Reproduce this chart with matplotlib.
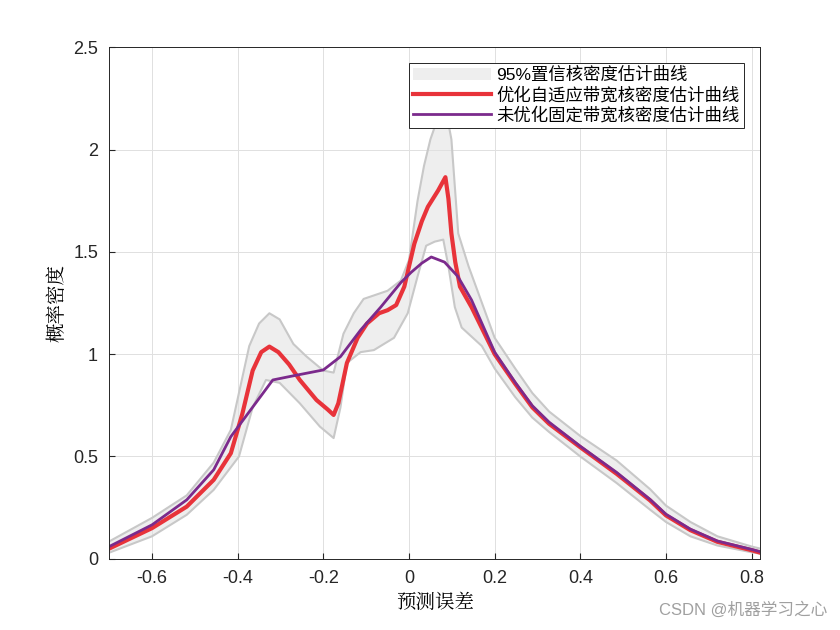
import numpy as np
import matplotlib.pyplot as plt

plt.rcParams['font.family'] = ['Liberation Sans', 'Noto Sans CJK SC', 'DejaVu Sans']

# red: optimized adaptive bandwidth KDE
x_red = [-0.7, -0.6, -0.519, -0.456, -0.416, -0.389, -0.365, -0.345, -0.326, -0.305, -0.28, -0.255,
         -0.216, -0.19, -0.176, -0.165, -0.145, -0.12, -0.098, -0.07, -0.05, -0.03, -0.011, 0.0125,
         0.03, 0.044, 0.068, 0.085, 0.092, 0.099, 0.108, 0.119, 0.146, 0.2, 0.248, 0.288,
         0.327, 0.4, 0.485, 0.563, 0.6, 0.657, 0.72, 0.8, 0.82]
y_red = [0.05, 0.15, 0.255, 0.386, 0.516, 0.71, 0.92, 1.01, 1.037, 1.01, 0.95, 0.874,
         0.776, 0.73, 0.703, 0.76, 0.957, 1.08, 1.15, 1.2, 1.215, 1.24, 1.33, 1.54,
         1.65, 1.72, 1.80, 1.865, 1.76, 1.59, 1.45, 1.33, 1.23, 1.0, 0.855, 0.74,
         0.66, 0.545, 0.415, 0.285, 0.212, 0.14, 0.083, 0.042, 0.03]

# purple: fixed bandwidth KDE
x_pur = [-0.7, -0.6, -0.519, -0.456, -0.416, -0.369, -0.318, -0.271, -0.2, -0.16, -0.113, -0.066,
         -0.019, 0.005, 0.03, 0.052, 0.083, 0.114, 0.146, 0.2, 0.248, 0.288, 0.327, 0.4,
         0.485, 0.563, 0.6, 0.657, 0.72, 0.8, 0.82]
y_pur = [0.06, 0.166, 0.288, 0.435, 0.597, 0.73, 0.874, 0.894, 0.923, 0.988, 1.118, 1.23,
         1.35, 1.40, 1.445, 1.475, 1.45, 1.38, 1.265, 1.01, 0.862, 0.748, 0.668, 0.55,
         0.422, 0.29, 0.218, 0.145, 0.087, 0.046, 0.035]

# 95% band
x_up = [-0.7, -0.6, -0.519, -0.456, -0.416, -0.373, -0.35, -0.326, -0.302, -0.27, -0.24, -0.2,
        -0.176, -0.153, -0.129, -0.106, -0.05, -0.019, 0.0, 0.02, 0.035, 0.05, 0.075, 0.09,
        0.099, 0.115, 0.139, 0.2, 0.248, 0.288, 0.327, 0.4, 0.485, 0.563, 0.6, 0.657, 0.72,
        0.8, 0.82]
y_up = [0.085, 0.2, 0.31, 0.47, 0.63, 1.04, 1.15, 1.2, 1.17, 1.05, 0.99, 0.92,
        0.91, 1.10, 1.2, 1.27, 1.31, 1.36, 1.46, 1.75, 1.92, 2.05, 2.2, 2.15,
        2.05, 1.59, 1.43, 1.08, 0.93, 0.81, 0.72, 0.6, 0.48, 0.34, 0.26, 0.18, 0.11,
        0.06, 0.05]
x_lo = [-0.7, -0.6, -0.519, -0.456, -0.397, -0.365, -0.334, -0.302, -0.255, -0.208, -0.176,
        -0.16, -0.145, -0.113, -0.082, -0.035, -0.003, 0.02, 0.04, 0.06, 0.08, 0.092, 0.107,
        0.123, 0.17, 0.2, 0.248, 0.288, 0.327, 0.4, 0.485, 0.563, 0.6, 0.657, 0.72, 0.8, 0.82]
y_lo = [0.03, 0.11, 0.215, 0.337, 0.5, 0.74, 0.874, 0.86, 0.76, 0.646, 0.59,
        0.74, 0.957, 1.01, 1.02, 1.08, 1.2, 1.38, 1.53, 1.55, 1.56, 1.43, 1.23,
        1.13, 1.04, 0.93, 0.79, 0.69, 0.62, 0.5, 0.37, 0.24, 0.18, 0.11, 0.065, 0.032, 0.025]

fig = plt.figure(figsize=(8.4, 6.3), dpi=100)
ax = fig.add_axes([0.13, 0.113, 0.775, 0.812])

ax.fill(np.r_[x_up, x_lo[::-1]], np.r_[y_up, y_lo[::-1]], color='#eeeeee', edgecolor='none',
        label='95%置信核密度估计曲线')
ax.plot(x_up, y_up, color='#c8c8c8', lw=1.5)
ax.plot(x_lo, y_lo, color='#c8c8c8', lw=1.5)
ax.plot(x_red, y_red, color='#e8333a', lw=3, label='优化自适应带宽核密度估计曲线')
ax.plot(x_pur, y_pur, color='#7b2a8c', lw=2, label='未优化固定带宽核密度估计曲线')

ax.set_xlim(-0.7, 0.82)
ax.set_ylim(0, 2.5)
ax.set_xticks([-0.6, -0.4, -0.2, 0, 0.2, 0.4, 0.6, 0.8])
ax.set_xticklabels(['-0.6', '-0.4', '-0.2', '0', '0.2', '0.4', '0.6', '0.8'])
ax.set_yticks([0, 0.5, 1, 1.5, 2, 2.5])
ax.set_yticklabels(['0', '0.5', '1', '1.5', '2', '2.5'])
ax.tick_params(labelsize=13, direction='in', length=4, pad=8, color='#262626', labelcolor='#262626')
ax.grid(True, color='#e0e0e0', lw=0.7)
for s in ax.spines.values():
    s.set_color('#262626')
    s.set_linewidth(0.7)
ax.set_xlabel('预测误差', fontsize=14, family=['Noto Serif CJK SC', 'Noto Sans CJK SC'])
ax.set_ylabel('概率密度', fontsize=14, family=['Noto Serif CJK SC', 'Noto Sans CJK SC'])

leg = ax.legend(loc='upper right', bbox_to_anchor=(0.975, 0.97), fontsize=12.5, fancybox=False,
                edgecolor='#262626', framealpha=1, handlelength=4.5, borderpad=0.25,
                labelspacing=0.2, handletextpad=0.3, borderaxespad=0)
leg.get_frame().set_linewidth(0.7)

fig.text(0.985, 0.02, 'CSDN @机器学习之心', ha='right', va='bottom', fontsize=12, color='#a0a0a0')

fig.savefig('out.png', dpi=100)
